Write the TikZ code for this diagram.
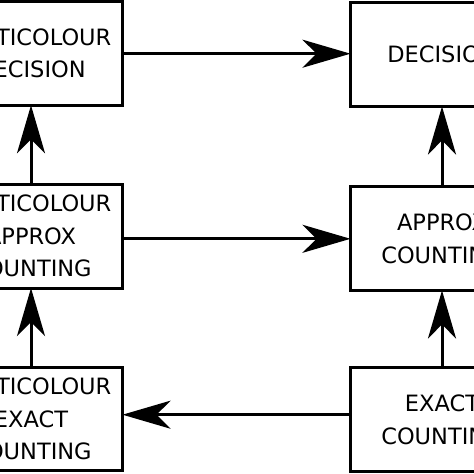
\documentclass[tikz,border=0pt]{standalone}
\usepackage{fontspec}
\setmainfont{DejaVu Sans}
\usetikzlibrary{arrows.meta}
\begin{document}
\begin{tikzpicture}[x=1pt,y=-1pt,
  box/.style={draw, line width=3pt, minimum width=183pt, minimum height=103.5pt,
    inner sep=0pt, outer sep=0pt, align=center, font=\fontsize{22.5}{32.5}\selectfont},
  arr/.style={line width=3pt, -{Stealth[length=48pt,width=28pt,inset=14pt]}}]
\useasboundingbox (0,0) rectangle (474,474);
\fill[white] (0,0) rectangle (474,474);
\clip (0,0) rectangle (474,474);
\node[box] (lt) at (31,53.5) {MULTICOLOUR\\DECISION};
\node[box] (lm) at (31,236.3) {MULTICOLOUR\\APPROX\\COUNTING};
\node[box] (lb) at (31,419) {MULTICOLOUR\\EXACT\\COUNTING};
\node[box] (rt) at (442,54.7) {DECISION};
\node[box] (rm) at (442,238.7) {APPROX\\COUNTING};
\node[box] (rb) at (442,419.7) {EXACT\\COUNTING};
\coordinate (yt) at (0,53.7);
\coordinate (ym) at (0,238.8);
\coordinate (yb) at (0,414.7);
\draw[arr] (lt.east |- yt) -- (rt.west |- yt);
\draw[arr] (lm.east |- ym) -- (rm.west |- ym);
\draw[arr] (rb.west |- yb) -- (lb.east |- yb);
\draw[arr] (lm.north) -- (lt.south);
\draw[arr] (lb.north) -- (lm.south);
\draw[arr] (rm.north) -- (rt.south);
\draw[arr] (rb.north) -- (rm.south);
\end{tikzpicture}
\end{document}
